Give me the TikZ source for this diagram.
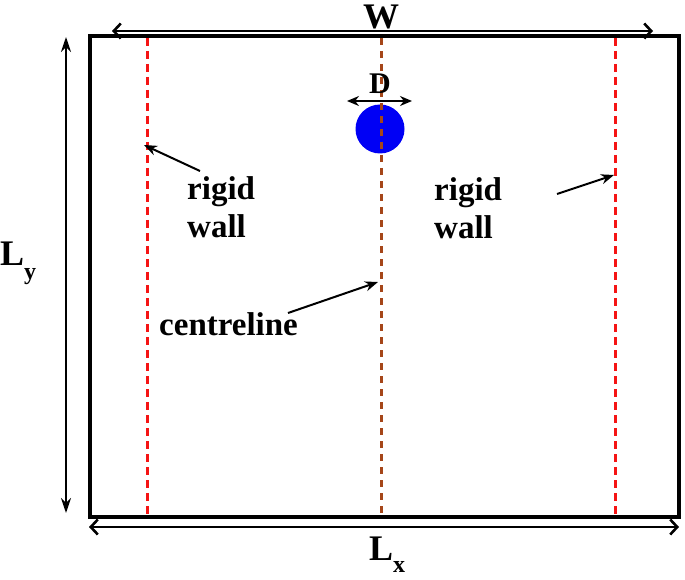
\documentclass[tikz,border=0pt]{standalone}
\usepackage{fontspec}
\setmainfont{Liberation Serif}
\usetikzlibrary{arrows.meta}

\definecolor{wallred}{RGB}{245,20,20}
\definecolor{linebrown}{RGB}{165,70,25}
\definecolor{cylblue}{RGB}{0,0,245}

\begin{document}
\begin{tikzpicture}[x=1pt,y=-1pt,
    lbl/.style={font=\bfseries\fontsize{33}{38}\selectfont, inner sep=0pt, align=left},
    sym/.style={font=\bfseries\fontsize{36}{40}\selectfont, inner sep=0pt},
    dimline/.style={line width=2pt, {Straight Barb[length=7pt,width=15pt,line width=2.6pt]}-{Straight Barb[length=7pt,width=15pt,line width=2.6pt]}},
    dimfill/.style={line width=1.8pt, {Stealth[length=15pt,width=10pt]}-{Stealth[length=15pt,width=10pt]}},
    pointer/.style={line width=2pt, -{Stealth[length=13pt,width=10pt]}},
    wall/.style={wallred, line width=3pt, dash pattern=on 8pt off 5pt},
    centre/.style={linebrown, line width=3pt, dash pattern=on 7pt off 6pt}]
    \useasboundingbox (0,0) rectangle (685,580);

    % Channel
    \draw [line width=3.5pt] (90,36) rectangle (679,517);

    % Cylinder
    \fill [cylblue] (380,129) circle (24.5);

    % Walls and centreline
    \draw [wall] (147,38) -- (147,514);
    \draw [wall] (615,38) -- (615,514);
    \draw [centre] (381,38) -- (381,514);

    % Dimensions
    \coordinate (wl) at (112,31);
    \coordinate (wr) at (653,31);
    \draw [dimline] (wl) -- (wr);
    \node (W) [sym, anchor=base] at (381,29) {W};

    \coordinate (lxl) at (89,527);
    \coordinate (lxr) at (679,527);
    \draw [dimline] (lxl) -- (lxr);
    \node (Lx) [sym, anchor=base west] at (369,560) {L\raisebox{-12pt}{\fontsize{24}{24}\selectfont x}};

    \coordinate (lyt) at (66,37);
    \coordinate (lyb) at (66,513);
    \draw [dimfill] (lyt) -- (lyb);
    \node (Ly) [sym, anchor=base west] at (0,265) {L\raisebox{-14pt}{\fontsize{24}{24}\selectfont y}};

    \coordinate (dl) at (347,101);
    \coordinate (dr) at (412,101);
    \draw [line width=1.8pt, {Stealth[length=12pt,width=10pt]}-{Stealth[length=12pt,width=10pt]}] (dl) -- (dr);
    \node (D) [font=\bfseries\fontsize{30}{30}\selectfont, inner sep=0pt, anchor=base] at (380,94) {D};

    % Labels
    \node (leftwall) [lbl, anchor=north west] at (187,176) {rigid\\wall};
    \node (rightwall) [lbl, anchor=north west] at (434,177) {rigid\\wall};
    \node (centreline) [lbl, anchor=base west] at (159,335) {centreline};

    % Pointers
    \coordinate (lt) at (200,171);
    \coordinate (lh) at (144,145);
    \draw [pointer] (lt) -- (lh);
    \coordinate (rt) at (557,194);
    \coordinate (rh) at (614,175);
    \draw [pointer] (rt) -- (rh);
    \coordinate (ct) at (288,313);
    \coordinate (ch) at (378,282);
    \draw [pointer] (ct) -- (ch);
\end{tikzpicture}
\end{document}
